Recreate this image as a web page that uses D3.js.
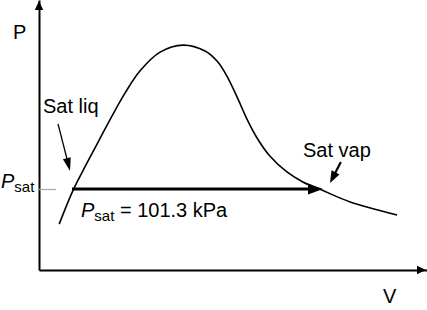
<!DOCTYPE html>
<html>
<head>
<meta charset="utf-8">
<script src="https://cdn.jsdelivr.net/npm/d3@7"></script>
<style>
  html, body { margin: 0; padding: 0; background: #fff; }
  svg { display: block; }
  text { font-family: "Liberation Sans", Arial, sans-serif; fill: #000; }
</style>
</head>
<body>
<svg id="chart" width="427" height="310"></svg>
<script>
// ---- Data (arbitrary units) ----
const domeV = [5.2, 8.8, 12.1, 15.5, 18.8, 22.2, 26.0, 31.2, 37.1, 42.8, 46.1, 48.7, 51.3, 53.6, 56.2, 59.5, 63.9, 68.0, 72.9, 80.2, 92.3];
const domeP = [17.0, 29.6, 38.9, 48.1, 57.0, 65.6, 73.7, 80.7, 83.3, 81.1, 77.0, 71.1, 63.3, 55.9, 48.9, 42.2, 36.3, 32.6, 29.6, 25.2, 20.4];
const psat = 30.0;             // saturation pressure level
const satLiqV = 8.5;           // saturated liquid volume at Psat
const satVapV = 73.2;          // saturated vapour volume at Psat
const satLiqArrow = [[4.9, 54.1], [8.0, 36.7]];   // tail, tip
const satVapArrow = [[77.8, 40.0], [75.0, 32.2]]; // tail, tip
const labels = { yAxis: "P", xAxis: "V", satLiq: "Sat liq", satVap: "Sat vap", psatValue: "101.3 kPa" };

// ---- Scales ----
const svg = d3.select("#chart");
const x = d3.scaleLinear().domain([0, 100]).range([39, 427]);
const y = d3.scaleLinear().domain([0, 100]).range([270, 0]);

function arrowHead(tip, from, len, halfW) {
  const dx = tip[0] - from[0], dy = tip[1] - from[1];
  const d = Math.hypot(dx, dy), ux = dx / d, uy = dy / d;
  const bx = tip[0] - ux * len, by = tip[1] - uy * len;
  return [[tip[0], tip[1]], [bx - uy * halfW, by + ux * halfW], [bx + uy * halfW, by - ux * halfW]];
}
function base(tip, from, len) {
  const dx = tip[0] - from[0], dy = tip[1] - from[1];
  const d = Math.hypot(dx, dy);
  return [tip[0] - dx / d * len, tip[1] - dy / d * len];
}

// ---- Axes ----
const yAxis = d3.axisRight(y).tickValues([psat]).tickSize(17).tickFormat("").tickSizeOuter(0);
const gy = svg.append("g").attr("transform", `translate(${x(0)},0)`).call(yAxis);
gy.select(".domain").attr("stroke", "#000").attr("stroke-width", 2);
gy.selectAll(".tick line").attr("stroke", "#aaa").attr("stroke-width", 1.2);

const xAxis = d3.axisBottom(x).tickValues([]).tickSizeOuter(0);
const gx = svg.append("g").attr("transform", `translate(0,${y(0)})`).call(xAxis);
gx.select(".domain").attr("stroke", "#000").attr("stroke-width", 2);

// axis arrowheads
const yTop = [x(0), y(100)], yBot = [x(0), y(0)];
svg.append("polygon").attr("points", arrowHead([yTop[0], yTop[1] + 1], yBot, 9, 4.2).join(" ")).attr("fill", "#000");
const xEnd = [x(100), y(0)], xStart = [x(0), y(0)];
svg.append("polygon").attr("points", arrowHead([xEnd[0] - 1, xEnd[1]], xStart, 9, 4.2).join(" ")).attr("fill", "#000");

// ---- Saturation dome ----
const pts = domeV.map((v, i) => [v, domeP[i]]);
svg.append("path")
  .datum(pts)
  .attr("d", d3.line().x(d => x(d[0])).y(d => y(d[1])).curve(d3.curveCatmullRom.alpha(0.5)))
  .attr("fill", "none").attr("stroke", "#000").attr("stroke-width", 1.6);

// ---- Psat horizontal arrow ----
const hTail = [x(satLiqV), y(psat)], hTip = [x(satVapV), y(psat)];
const hBase = base(hTip, hTail, 14);
svg.append("line").attr("x1", hTail[0]).attr("y1", hTail[1]).attr("x2", hBase[0] + 1).attr("y2", hBase[1])
  .attr("stroke", "#000").attr("stroke-width", 3);
svg.append("polygon").attr("points", arrowHead(hTip, hTail, 15, 5.5).join(" ")).attr("fill", "#000");

// ---- Annotation arrows ----
function annot(a, w, len, hw) {
  const tail = [x(a[0][0]), y(a[0][1])], tip = [x(a[1][0]), y(a[1][1])];
  const b = base(tip, tail, len - 1);
  svg.append("line").attr("x1", tail[0]).attr("y1", tail[1]).attr("x2", b[0]).attr("y2", b[1])
    .attr("stroke", "#000").attr("stroke-width", w);
  svg.append("polygon").attr("points", arrowHead(tip, tail, len, hw).join(" ")).attr("fill", "#000");
}
annot(satLiqArrow, 1.3, 13, 4);
annot(satVapArrow, 2.2, 12, 4.5);

// ---- Text ----
svg.append("text").attr("x", 13).attr("y", 39).attr("font-size", 20).text(labels.yAxis);
svg.append("text").attr("x", 383).attr("y", 303).attr("font-size", 20).text(labels.xAxis);
svg.append("text").attr("x", 43).attr("y", 113).attr("font-size", 20).text(labels.satLiq);
svg.append("text").attr("x", 303).attr("y", 157).attr("font-size", 20).text(labels.satVap);

const tl = svg.append("text").attr("x", 1).attr("y", 188).attr("font-size", 20);
tl.append("tspan").attr("font-style", "italic").text("P");
tl.append("tspan").attr("font-size", 15).attr("dy", 4).text("sat");

const tv = svg.append("text").attr("x", 81).attr("y", 217).attr("font-size", 20);
tv.append("tspan").attr("font-style", "italic").text("P");
tv.append("tspan").attr("font-size", 15).attr("dy", 4).text("sat");
tv.append("tspan").attr("dy", -4).text("\u00a0= " + labels.psatValue);
</script>
</body>
</html>
